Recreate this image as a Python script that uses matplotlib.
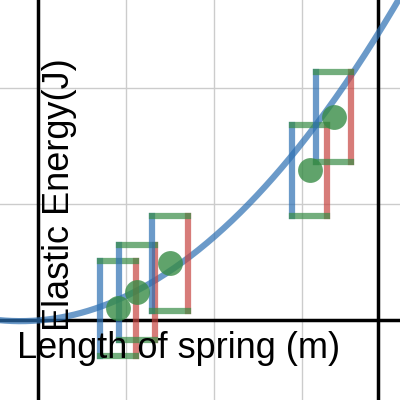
import numpy as np
import matplotlib
matplotlib.use("Agg")
import matplotlib.pyplot as plt

x_vals = [0.091, 0.1125, 0.15, 0.309, 0.336]
y_vals = [0.10, 0.24, 0.49, 1.29, 1.75]
x_err = [0.02, 0.02, 0.02, 0.02, 0.02]
y_err = [0.41, 0.41, 0.41, 0.39, 0.39]
curve_a, curve_x0, curve_c = 15.0, -0.02, -0.01

BLUE, RED, GREEN = "#2d70b3", "#c74440", "#388c46"

fig = plt.figure(figsize=(4, 4), dpi=100)
ax = fig.add_axes([0, 0, 1, 1])
ax.set_xlim(-0.0432, 0.4114)
ax.set_ylim(-0.69, 2.759)
ax.axis("off")

for gx in [0.1, 0.2, 0.3]:
    ax.axvline(gx, color="#cccccc", lw=1, zorder=0)
for gy in [1, 2]:
    ax.axhline(gy, color="#cccccc", lw=1, zorder=0)
ax.axvline(0, color="black", lw=2.5, zorder=1)
ax.axvline(0.386, color="black", lw=2.5, zorder=1)
ax.axhline(0, color="black", lw=2.5, zorder=1)

xs = np.linspace(-0.05, 0.42, 300)
ax.plot(xs, curve_a * (xs - curve_x0) ** 2 + curve_c, color=BLUE, lw=4.5, alpha=0.7, zorder=3)

for x, y, dx, dy in zip(x_vals, y_vals, x_err, y_err):
    ax.plot([x - dx, x - dx], [y - dy, y + dy], color=BLUE, lw=4.5, alpha=0.7, zorder=4)
    ax.plot([x + dx, x + dx], [y - dy, y + dy], color=RED, lw=4.5, alpha=0.7, zorder=4)
    ax.plot([x - dx, x + dx], [y + dy, y + dy], color=GREEN, lw=4.5, alpha=0.7, zorder=4)
    ax.plot([x - dx, x + dx], [y - dy, y - dy], color=GREEN, lw=4.5, alpha=0.7, zorder=4)
ax.scatter(x_vals, y_vals, s=320, color=GREEN, alpha=0.8, zorder=5, linewidths=0)

ax.text(0.16, -0.25, "Length of spring (m)", fontsize=26, family="Liberation Sans",
        ha="center", va="center", zorder=6)
ax.text(0.024, 1.08, "Elastic Energy(J)", fontsize=26, family="Liberation Sans",
        rotation=90, ha="center", va="center", zorder=6)

fig.savefig("out.png", dpi=100)
